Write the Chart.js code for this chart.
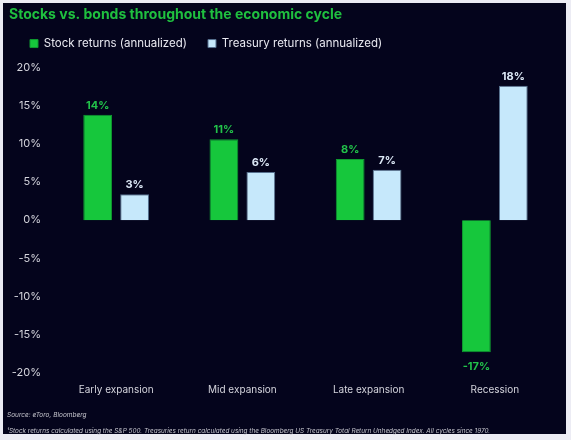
<!DOCTYPE html>
<html>
<head>
<meta charset="utf-8">
<script src="https://cdn.jsdelivr.net/npm/chart.js@4.4.1/dist/chart.umd.min.js"></script>
<style>
  html, body { margin: 0; padding: 0; background: #ececf4; }
  #panel { position: absolute; left: 3px; top: 3px; width: 563px; height: 431px; background: #04041c; }
  #chart { position: absolute; left: 0; top: 0; }
  .note { position: absolute; left: 4px; color: #c4c4cc; font-family: Inter, sans-serif; font-style: italic; white-space: nowrap; }
</style>
</head>
<body>
<div id="panel">
  <canvas id="chart" width="563" height="431"></canvas>
  <div class="note" style="top:408px;font-size:6.5px;">Source: eToro, Bloomberg</div>
  <div class="note" style="top:424px;font-size:6.4px;">¹Stock returns calculated using the S&amp;P 500. Treasuries return calculated using the Bloomberg US Treasury Total Return Unhedged Index. All cycles since 1970.</div>
</div>
<script>
// values (percent, annualized)
const phases = ['Early expansion', 'Mid expansion', 'Late expansion', 'Recession'];
const stockReturns = [13.8, 10.6, 8.0, -17.3];
const treasuryReturns = [3.4, 6.3, 6.6, 17.6];
const yTicks = [-20, -15, -10, -5, 0, 5, 10, 15, 20];

const FONT = 'Inter, sans-serif';

// draws the rounded % labels above/below each bar
const barLabels = {
  id: 'barLabels',
  afterDatasetsDraw(chart) {
    const ctx = chart.ctx;
    ctx.save();
    ctx.font = 'bold 11px ' + FONT;
    ctx.textAlign = 'center';
    ctx.textBaseline = 'middle';
    chart.data.datasets.forEach((ds, i) => {
      const meta = chart.getDatasetMeta(i);
      meta.data.forEach((bar, j) => {
        const v = ds.data[j];
        ctx.fillStyle = ds.labelColor;
        const y = v >= 0 ? bar.y - 9 : bar.y + 14;
        ctx.fillText(Math.round(v) + '%', bar.x, y);
      });
    });
    ctx.restore();
  }
};

// a bit of extra room under the legend
const legendGap = {
  id: 'legendGap',
  beforeLayout(chart) {
    const lg = chart.legend;
    if (lg && !lg._gapWrapped) {
      const fit = lg.fit;
      lg.fit = function () { fit.call(this); this.height += 8; };
      lg._gapWrapped = true;
    }
  }
};

new Chart(document.getElementById('chart'), {
  type: 'bar',
  data: {
    labels: phases,
    datasets: [{
      label: 'Stock returns (annualized)',
      data: stockReturns,
      backgroundColor: '#16c73c',
      borderColor: '#0f9a30',
      borderWidth: 1,
      labelColor: '#22c24a',
      barPercentage: 0.78,
      categoryPercentage: 0.585
    }, {
      label: 'Treasury returns (annualized)',
      data: treasuryReturns,
      backgroundColor: '#c6e8fb',
      borderColor: '#56708e',
      borderWidth: 1,
      labelColor: '#dce8f6',
      barPercentage: 0.78,
      categoryPercentage: 0.585
    }]
  },
  options: {
    responsive: false,
    animation: false,
    layout: { padding: { left: 6, right: 8, top: 0, bottom: 27 } },
    plugins: {
      title: {
        display: true,
        text: 'Stocks vs. bonds throughout the economic cycle',
        align: 'start',
        color: '#1fc03f',
        font: { family: FONT, size: 14, weight: 'bold' },
        padding: { top: 3, bottom: -6 }
      },
      legend: {
        align: 'start',
        labels: {
          color: '#e8e8f0',
          font: { family: FONT, size: 11.5 },
          boxWidth: 8,
          boxHeight: 8,
          padding: 21
        }
      },
      tooltip: { enabled: false }
    },
    scales: {
      x: {
        grid: { display: false, drawTicks: false },
        border: { display: false },
        ticks: { color: '#d4d4dc', font: { family: FONT, size: 10 }, padding: 11 }
      },
      y: {
        min: -20,
        max: 20,
        afterFit(axis) { axis.width = 44; },
        afterBuildTicks(axis) { axis.ticks = yTicks.map(v => ({ value: v })); },
        grid: { display: false, drawTicks: false },
        border: { display: false },
        ticks: {
          color: '#d4d4dc',
          font: { family: FONT, size: 11 },
          padding: 12,
          callback: v => v + '%'
        }
      }
    }
  },
  plugins: [barLabels, legendGap]
});
</script>
</body>
</html>
